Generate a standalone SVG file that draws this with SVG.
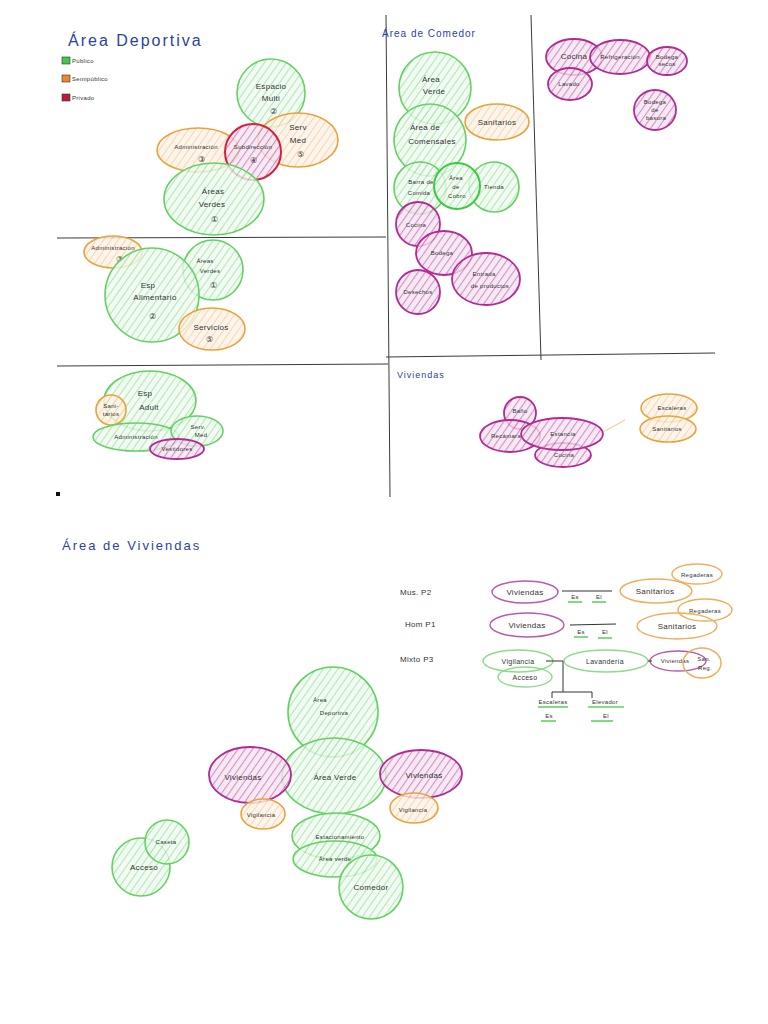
<svg xmlns="http://www.w3.org/2000/svg" width="768" height="1024" viewBox="0 0 768 1024">
<defs>
<pattern id="hg" width="6" height="6" patternUnits="userSpaceOnUse" patternTransform="rotate(35)"><rect width="6" height="6" fill="#eefaef"/><line x1="0" y1="0" x2="0" y2="6" stroke="#9fe0a4" stroke-width="2"/></pattern>
<pattern id="hp" width="6" height="6" patternUnits="userSpaceOnUse" patternTransform="rotate(35)"><rect width="6" height="6" fill="#f4e4f0"/><line x1="0" y1="0" x2="0" y2="6" stroke="#c777b5" stroke-width="2.2"/></pattern>
<pattern id="ho" width="6" height="6" patternUnits="userSpaceOnUse" patternTransform="rotate(35)"><rect width="6" height="6" fill="#fdf3e6"/><line x1="0" y1="0" x2="0" y2="6" stroke="#f2c48a" stroke-width="1.6"/></pattern>
</defs>
<style>
.g{fill:url(#hg);fill-opacity:.8;stroke:#62d262;stroke-width:1.6}
.p{fill:url(#hp);fill-opacity:.8;stroke:#b42a95;stroke-width:1.8}
.o{fill:url(#ho);fill-opacity:.8;stroke:#eba23b;stroke-width:1.6}
.r{fill:url(#hp);fill-opacity:.8;stroke:#d8203e;stroke-width:2}
.po{fill:none;stroke:#b85aa8;stroke-width:1.4}
.go{fill:none;stroke:#8edb8e;stroke-width:1.4}
.oo{fill:none;stroke:#eeae5a;stroke-width:1.4}
.gl{fill:none;stroke:#3a3a3a;stroke-width:1}
.t{font-family:"Liberation Sans",Arial,sans-serif;font-size:8px;fill:#333;text-anchor:middle;letter-spacing:.3px}
.s{font-size:6px}
.tt{font-family:"Liberation Sans",Arial,sans-serif;font-size:11px;fill:#2b3fa6;letter-spacing:1px}
.u{stroke:#5fd35f;stroke-width:1.6}
.k{stroke:#333;stroke-width:1;fill:none}
</style>
<rect width="768" height="1024" fill="#fff"/>
<g id="grid" class="gl">
<line x1="57" y1="238" x2="386" y2="237"/>
<line x1="57" y1="366" x2="388" y2="364"/>
<line x1="386" y1="15" x2="390" y2="497"/>
<line x1="531" y1="15" x2="541" y2="360"/>
<line x1="386" y1="357" x2="715" y2="353"/>
</g>
<rect x="56" y="492" width="4" height="4" fill="#111"/>

<!-- Area Deportiva -->
<text class="tt" x="68" y="46" style="font-size:16px;letter-spacing:2px">Área Deportiva</text>
<g id="legend">
<rect x="62" y="57" width="8" height="7" fill="#41c84a" stroke="#333" stroke-width=".6"/><text class="t s" x="72" y="63" style="text-anchor:start">Público</text>
<rect x="62" y="75" width="8" height="7" fill="#e8892c" stroke="#333" stroke-width=".6"/><text class="t s" x="72" y="81" style="text-anchor:start">Semipúblico</text>
<rect x="62" y="94" width="8" height="7" fill="#b81d3a" stroke="#333" stroke-width=".6"/><text class="t s" x="72" y="100" style="text-anchor:start">Privado</text>
</g>
<g id="ad-espacio"><circle class="g" cx="271" cy="93" r="34"/><text class="t" x="271" y="89">Espacio</text><text class="t" x="271" y="101">Multi</text><text class="t" x="274" y="114">②</text></g>
<g id="ad-serv"><ellipse class="o" cx="298" cy="140" rx="40" ry="27"/><text class="t" x="298" y="130">Serv</text><text class="t" x="298" y="143">Med</text><text class="t" x="301" y="157">⑤</text></g>
<g id="ad-admin"><ellipse class="o" cx="198" cy="150" rx="41" ry="22"/><text class="t s" x="196" y="149">Administración</text><text class="t" x="202" y="162">③</text></g>
<g id="ad-subdir"><circle class="r" cx="253" cy="152" r="28"/><text class="t s" x="253" y="149">Subdirección</text><text class="t" x="254" y="163">④</text></g>
<g id="ad-verdes"><ellipse class="g" cx="214" cy="199" rx="50" ry="36"/><text class="t" x="213" y="194">Áreas</text><text class="t" x="212" y="207">Verdes</text><text class="t" x="215" y="222">①</text></g>

<!-- panel 2 -->
<g id="p2-admin"><ellipse class="o" cx="113" cy="252" rx="29" ry="16"/><text class="t s" x="113" y="250">Administración</text><text class="t" x="120" y="262">③</text></g>
<g id="p2-verdes"><circle class="g" cx="213" cy="270" r="30"/><text class="t s" x="205" y="263">Áreas</text><text class="t s" x="210" y="273">Verdes</text><text class="t" x="214" y="288">①</text></g>
<g id="p2-esp"><circle class="g" cx="152" cy="295" r="47"/><text class="t" x="148" y="288">Esp</text><text class="t" x="155" y="300">Alimentario</text><text class="t" x="153" y="319">②</text></g>
<g id="p2-serv"><ellipse class="o" cx="212" cy="329" rx="33" ry="21"/><text class="t" x="211" y="330">Servicios</text><text class="t" x="210" y="342">⑤</text></g>

<!-- panel 3 -->
<g id="p3-esp"><ellipse class="g" cx="150" cy="401" rx="46" ry="30"/><text class="t" x="145" y="396">Esp</text><text class="t" x="149" y="410">Adult</text></g>
<g id="p3-san"><circle class="o" cx="111" cy="410" r="15"/><text class="t s" x="111" y="408">Sani-</text><text class="t s" x="111" y="416">tarios</text></g>
<g id="p3-admin"><ellipse class="g" cx="136" cy="437" rx="43" ry="14"/><text class="t s" x="136" y="439">Administración</text></g>
<g id="p3-serv"><ellipse class="g" cx="197" cy="431" rx="26" ry="15"/><text class="t s" x="198" y="429">Serv.</text><text class="t s" x="201" y="437">Med</text></g>
<g id="p3-vest"><ellipse class="p" cx="177" cy="449" rx="27" ry="10"/><text class="t s" x="177" y="451">Vestidores</text></g>

<!-- Area de comedor -->
<text class="tt" x="382" y="37" style="font-size:10px">Área de Comedor</text>
<g id="c-verde"><circle class="g" cx="435" cy="88" r="36"/><text class="t" x="431" y="82">Área</text><text class="t" x="434" y="94">Verde</text></g>
<g id="c-san"><ellipse class="o" cx="497" cy="122" rx="32" ry="18"/><text class="t" x="497" y="125">Sanitarios</text></g>
<g id="c-comen"><circle class="g" cx="430" cy="140" r="36"/><text class="t" x="425" y="130">Área de</text><text class="t" x="432" y="144">Comensales</text></g>
<g id="c-barra"><circle class="g" cx="420" cy="188" r="26"/><text class="t s" x="421" y="184">Barra de</text><text class="t s" x="419" y="195">Comida</text></g>
<g id="c-tienda"><circle class="g" cx="494" cy="187" r="25"/><text class="t s" x="494" y="189">Tienda</text></g>
<g id="c-cobro"><circle class="g" cx="457" cy="186" r="23" style="stroke:#3ccb3c;stroke-width:2"/><text class="t s" x="456" y="180">Área</text><text class="t s" x="456" y="189">de</text><text class="t s" x="457" y="198">Cobro</text></g>
<g id="c-cocina"><circle class="p" cx="418" cy="224" r="22"/><text class="t s" x="416" y="227">Cocina</text></g>
<g id="c-bodega"><ellipse class="p" cx="444" cy="253" rx="28" ry="22"/><text class="t s" x="442" y="255">Bodega</text></g>
<g id="c-entrada"><ellipse class="p" cx="486" cy="279" rx="34" ry="26"/><text class="t s" x="484" y="276">Entrada</text><text class="t s" x="490" y="288">de productos</text></g>
<g id="c-desechos"><circle class="p" cx="418" cy="292" r="22"/><text class="t s" x="418" y="294">Desechos</text></g>

<!-- panel 5 -->
<g id="k-cocina"><ellipse class="p" cx="574" cy="57" rx="28" ry="18"/><text class="t" x="574" y="59">Cocina</text></g>
<g id="k-lavado"><ellipse class="p" cx="570" cy="84" rx="22" ry="16"/><text class="t s" x="569" y="86">Lavado</text></g>
<g id="k-refri"><ellipse class="p" cx="620" cy="57" rx="30" ry="17"/><text class="t s" x="620" y="59">Refrigeración</text></g>
<g id="k-bodega"><ellipse class="p" cx="667" cy="61" rx="20" ry="14"/><text class="t s" x="667" y="59">Bodega</text><text class="t s" x="667" y="66">secos</text></g>
<g id="k-basura"><ellipse class="p" cx="655" cy="110" rx="21" ry="20"/><text class="t s" x="655" y="104">Bodega</text><text class="t s" x="655" y="112">de</text><text class="t s" x="656" y="120">basura</text></g>

<!-- Viviendas -->
<text class="tt" x="397" y="378" style="font-size:9px">Viviendas</text>
<line x1="603" y1="432" x2="625" y2="420" stroke="#f0b660" stroke-width=".8"/>
<g id="v-bano"><circle class="p" cx="520" cy="413" r="16"/><text class="t s" x="520" y="413">Baño</text></g>
<g id="v-recamara"><ellipse class="p" cx="510" cy="436" rx="30" ry="16"/><text class="t s" x="506" y="438">Recámara</text></g>
<g id="v-cocina"><ellipse class="p" cx="563" cy="455" rx="28" ry="12"/><text class="t s" x="564" y="457">Cocina</text></g>
<g id="v-estancia"><ellipse class="p" cx="562" cy="434" rx="41" ry="16"/><text class="t s" x="563" y="436">Estancia</text></g>
<g id="v-esc"><ellipse class="o" cx="669" cy="408" rx="28" ry="14"/><text class="t s" x="672" y="410">Escaleras</text></g>
<g id="v-san"><ellipse class="o" cx="668" cy="429" rx="28" ry="13"/><text class="t s" x="667" y="431">Sanitarios</text></g>

<!-- Area de viviendas -->
<text class="tt" x="62" y="550" style="font-size:13px;letter-spacing:2px">Área de Viviendas</text>

<g id="levels">
<text class="t" x="400" y="595" style="text-anchor:start;font-size:8px">Mus.   P2</text>
<text class="t" x="405" y="627" style="text-anchor:start;font-size:8px">Hom   P1</text>
<text class="t" x="400" y="662" style="text-anchor:start;font-size:8px">Mixto   P3</text>
</g>
<g id="r1-viv"><ellipse class="po" cx="525" cy="592" rx="33" ry="11"/><text class="t" x="525" y="595">Viviendas</text></g>
<g id="r1-san"><ellipse class="oo" cx="656" cy="591" rx="36" ry="12"/><text class="t" x="655" y="594">Sanitarios</text></g>
<g id="r1-reg"><ellipse class="oo" cx="697" cy="574" rx="25" ry="10"/><text class="t s" x="697" y="577">Regaderas</text></g>
<g id="r2-viv"><ellipse class="po" cx="527" cy="625" rx="37" ry="12"/><text class="t" x="527" y="628">Viviendas</text></g>
<g id="r2-san"><ellipse class="oo" cx="677" cy="626" rx="40" ry="13"/><text class="t" x="677" y="629">Sanitarios</text></g>
<g id="r2-reg"><ellipse class="oo" cx="705" cy="610" rx="27" ry="11"/><text class="t s" x="705" y="613">Regaderas</text></g>
<g id="r3-vig"><ellipse class="go" cx="518" cy="661" rx="35" ry="11"/><text class="t" x="518" y="664" style="font-size:7px">Vigilancia</text></g>
<g id="r3-acc"><ellipse class="go" cx="525" cy="677" rx="27" ry="10"/><text class="t" x="525" y="680" style="font-size:7px">Acceso</text></g>
<g id="r3-lav"><ellipse class="go" cx="606" cy="661" rx="42" ry="11"/><text class="t" x="605" y="664" style="font-size:7px">Lavandería</text></g>
<g id="r3-viv"><ellipse class="po" cx="678" cy="661" rx="28" ry="10"/><text class="t s" x="675" y="663">Viviendas</text></g>
<g id="r3-san"><ellipse class="oo" cx="702" cy="663" rx="19" ry="15"/><text class="t s" x="704" y="661">San.</text><text class="t s" x="705" y="670">Reg.</text></g>
<g id="r-labels">
<text class="t s" x="575" y="599">Es</text><text class="t s" x="599" y="599">El</text>
<text class="t s" x="581" y="634">Es</text><text class="t s" x="605" y="634">El</text>
<text class="t s" x="553" y="704">Escaleras</text><text class="t s" x="549" y="718">Es</text>
<text class="t s" x="605" y="704">Elevador</text><text class="t s" x="606" y="718">El</text>
</g>
<g id="connectors">
<line class="k" x1="562" y1="591" x2="612" y2="591"/>
<line class="k" x1="570" y1="625" x2="616" y2="624"/>
<line class="k" x1="546" y1="661" x2="563" y2="661"/>
<line class="k" x1="563" y1="661" x2="563" y2="692"/>
<line class="k" x1="552" y1="692" x2="592" y2="692"/>
<line class="k" x1="552" y1="692" x2="552" y2="698"/>
<line class="k" x1="592" y1="692" x2="592" y2="698"/>
<line class="k" x1="648" y1="661" x2="652" y2="661"/>
<line class="u" x1="568" y1="602" x2="582" y2="602"/><line class="u" x1="592" y1="602" x2="606" y2="602"/>
<line class="u" x1="574" y1="637" x2="588" y2="637"/><line class="u" x1="598" y1="638" x2="612" y2="638"/>
<line class="u" x1="538" y1="707" x2="568" y2="707"/><line class="u" x1="541" y1="721" x2="556" y2="721"/>
<line class="u" x1="588" y1="707" x2="624" y2="707"/><line class="u" x1="591" y1="721" x2="613" y2="721"/>
</g>

<g id="m-deportiva"><circle class="g" cx="333" cy="712" r="45"/><text class="t s" x="320" y="702">Área</text><text class="t s" x="334" y="715">Deportiva</text></g>
<g id="m-verde"><ellipse class="g" cx="334" cy="776" rx="52" ry="38"/><text class="t" x="335" y="780">Área Verde</text></g>
<g id="m-viv-l"><ellipse class="p" cx="250" cy="775" rx="41" ry="28"/><text class="t" x="243" y="780">Viviendas</text></g>
<g id="m-viv-r"><ellipse class="p" cx="421" cy="774" rx="41" ry="24"/><text class="t" x="424" y="778">Viviendas</text></g>
<g id="m-vig-l"><ellipse class="o" cx="263" cy="814" rx="22" ry="15"/><text class="t s" x="261" y="817">Vigilancia</text></g>
<g id="m-vig-r"><ellipse class="o" cx="414" cy="808" rx="24" ry="15"/><text class="t s" x="413" y="812">Vigilancia</text></g>
<g id="m-estac"><ellipse class="g" cx="336" cy="836" rx="44" ry="23"/><text class="t s" x="340" y="839">Estacionamiento</text></g>
<g id="m-verde2"><ellipse class="g" cx="335" cy="859" rx="42" ry="18"/><text class="t s" x="335" y="861">Área verde</text></g>
<g id="m-comedor"><circle class="g" cx="371" cy="887" r="32"/><text class="t" x="371" y="890">Comedor</text></g>
<g id="m-acceso"><circle class="g" cx="141" cy="867" r="29"/><text class="t" x="144" y="870">Acceso</text></g>
<g id="m-caseta"><circle class="g" cx="167" cy="842" r="22"/><text class="t s" x="166" y="844">Caseta</text></g>
</svg>
